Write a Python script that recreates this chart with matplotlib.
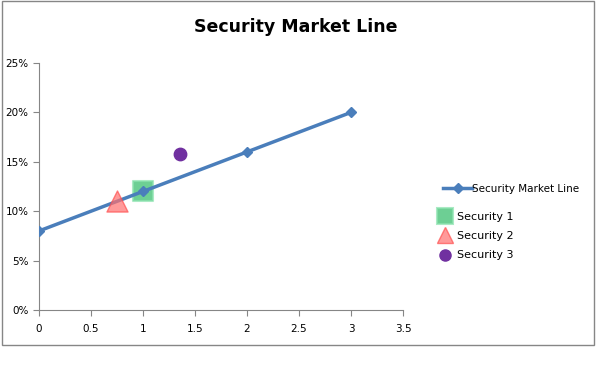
import matplotlib
matplotlib.use("Agg")
import matplotlib.pyplot as plt
from matplotlib.lines import Line2D
from matplotlib.patches import Rectangle
from matplotlib.ticker import PercentFormatter

# --- data ---
beta_sml = [0, 1, 2, 3]
ret_sml = [0.08, 0.12, 0.16, 0.20]

securities = ["Security 1", "Security 2", "Security 3"]
sec_beta = [1.0, 0.75, 1.36]
sec_ret = [0.12, 0.11, 0.158]

x_ticks = [0, 0.5, 1, 1.5, 2, 2.5, 3, 3.5]
x_labels = ["0", "0.5", "1", "1.5", "2", "2.5", "3", "3.5"]
y_ticks = [0, 0.05, 0.10, 0.15, 0.20, 0.25]

W, H = 616, 369
fig = plt.figure(figsize=(W / 100, H / 100), dpi=100)

# outer chart-area border (Excel style)
fig.patches.append(Rectangle((2 / W, 1 - 345 / H), 592 / W, 344 / H,
                             transform=fig.transFigure, fill=False,
                             edgecolor="#868686", lw=1.0))

ax = fig.add_axes([39 / W, 1 - 310 / H, 364 / W, 247 / H])

ax.plot(beta_sml, ret_sml, color="#4A7EBB", lw=2.5, marker="D", ms=5,
        zorder=3, label="Security Market Line")

ax.scatter(sec_beta[0], sec_ret[0], marker="s", s=220, color="#3CC070",
           alpha=0.75, edgecolors="#8EE3B0", linewidths=1.5, zorder=2)
ax.scatter(sec_beta[1], sec_ret[1], marker="^", s=230, color="#FF7070",
           alpha=0.7, edgecolors="#FF5050", linewidths=1.0, zorder=4)
ax.scatter(sec_beta[2], sec_ret[2], marker="o", s=80, color="#7030A0",
           zorder=4)

ax.set_xlim(0, 3.5)
ax.set_ylim(0, 0.25)
ax.set_xticks(x_ticks)
ax.set_xticklabels(x_labels)
ax.set_yticks(y_ticks)
ax.yaxis.set_major_formatter(PercentFormatter(1.0, decimals=0))

for side in ["top", "right"]:
    ax.spines[side].set_visible(False)
for side in ["left", "bottom"]:
    ax.spines[side].set_color("#868686")
ax.tick_params(axis="both", colors="#868686", labelcolor="black",
               labelsize=7.5, length=4, direction="out")
ax.tick_params(axis="x", pad=6)

fig.text(296 / W, 1 - 27 / H, "Security Market Line", ha="center",
         va="center", fontsize=12.5, fontweight="bold")

line_handle = [Line2D([], [], color="#4A7EBB", lw=2.5, marker="D", ms=5)]
leg1 = fig.legend(line_handle, ["Security Market Line"],
                  loc="center left", bbox_to_anchor=(438 / W, 1 - 189 / H),
                  frameon=False, fontsize=7.5, handlelength=2.8,
                  handletextpad=0.0, borderpad=0)

sec_handles = [
    Line2D([], [], ls="", marker="s", ms=12, color="#3CC070", alpha=0.75,
           markeredgecolor="#8EE3B0", markeredgewidth=1.5),
    Line2D([], [], ls="", marker="^", ms=12, color="#FF7070", alpha=0.7,
           markeredgecolor="#FF5050"),
    Line2D([], [], ls="", marker="o", ms=8, color="#7030A0"),
]
leg2 = fig.legend(sec_handles, securities, loc="upper left",
                  bbox_to_anchor=(433 / W, 1 - 206 / H), frameon=False,
                  fontsize=8, handlelength=1.2, handletextpad=0.45,
                  labelspacing=0.85, borderpad=0)

fig.savefig("out.png", dpi=100)
